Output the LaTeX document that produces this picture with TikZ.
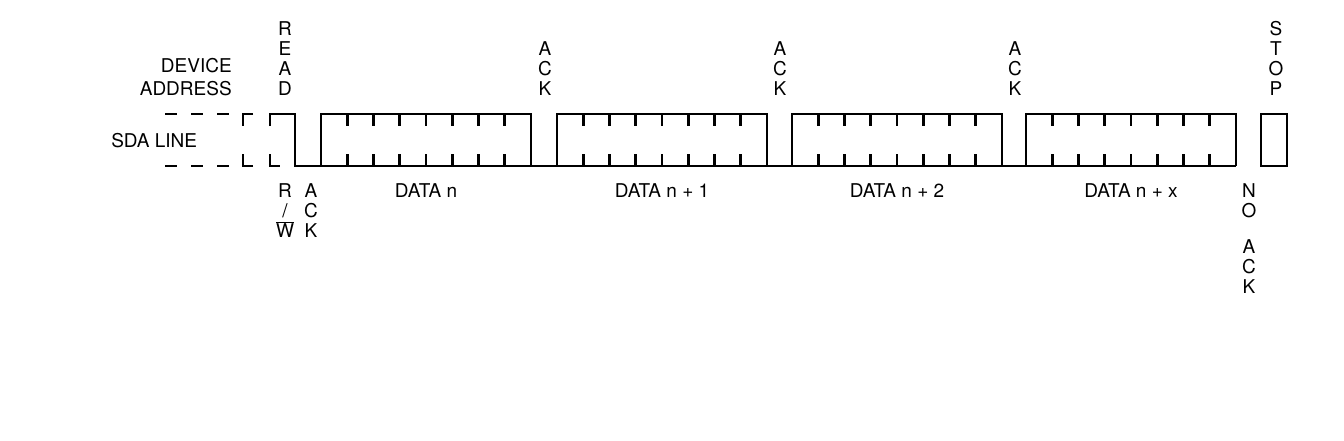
\documentclass[tikz,border=0pt]{standalone}
\usepackage{fontspec}
\setmainfont{TeX Gyre Heros}
\begin{document}
\begin{tikzpicture}[x=1pt,y=-1pt,line width=2.6pt,
  lbl/.style={inner sep=0pt,font=\fontsize{19}{21}\selectfont},
  vlbl/.style={lbl,align=center,font=\fontsize{19}{20}\selectfont}]
\useasboundingbox (0,0) rectangle (1344,440);
% left dashed region
\draw[dash pattern=on 12pt off 14pt] (165,114) -- (232,114);
\draw[dash pattern=on 12pt off 14pt] (165,166) -- (232,166);
\draw (253,114) -- (243,114) -- (243,126);
\draw (253,166) -- (243,166) -- (243,154);
\draw (270,126) -- (270,114) -- (295,114) -- (295,166) -- (1236,166);
\draw (270,154) -- (270,166) -- (280,166);
% frames
\foreach \a/\b in {321/531,557/767,792/1002,1026/1236}{
  \draw (\a,166) -- (\a,114) -- (\b,114) -- (\b,166);
  \foreach \i in {1,...,7}{
    \draw ({\a+\i*(\b-\a)/8},114) -- ++(0,12);
    \draw ({\a+\i*(\b-\a)/8},166) -- ++(0,-12);
  }
}
\draw (1261,114) rectangle (1287,166);
% labels
\node[lbl,anchor=east] (dev) at (233,66) {DEVICE};
\node[lbl,anchor=east] (addr) at (233,89) {ADDRESS};
\node[lbl,anchor=west] (sda) at (110,141) {SDA LINE};
\node[vlbl,anchor=south] (read) at (285,97) {R\\E\\A\\D};
\node[vlbl,anchor=south] (ack1) at (545,97) {A\\C\\K};
\node[vlbl,anchor=south] (ack2) at (780,97) {A\\C\\K};
\node[vlbl,anchor=south] (ack3) at (1015,97) {A\\C\\K};
\node[vlbl,anchor=south] (stop) at (1276,97) {S\\T\\O\\P};
\node[vlbl,anchor=north] (rw) at (285,182) {R\\/\\$\overline{\mbox{W}}$};
\node[vlbl,anchor=north] (ackm) at (311,182) {A\\C\\K};
\node[lbl] (d0) at (426,191) {DATA n};
\node[lbl] (d1) at (662,191) {DATA n + 1};
\node[lbl] (d2) at (897,191) {DATA n + 2};
\node[lbl] (d3) at (1131,191) {DATA n + x};
\node[vlbl,anchor=north] (no) at (1249,182) {N\\O\\[16pt]A\\C\\K};
\end{tikzpicture}
\end{document}
